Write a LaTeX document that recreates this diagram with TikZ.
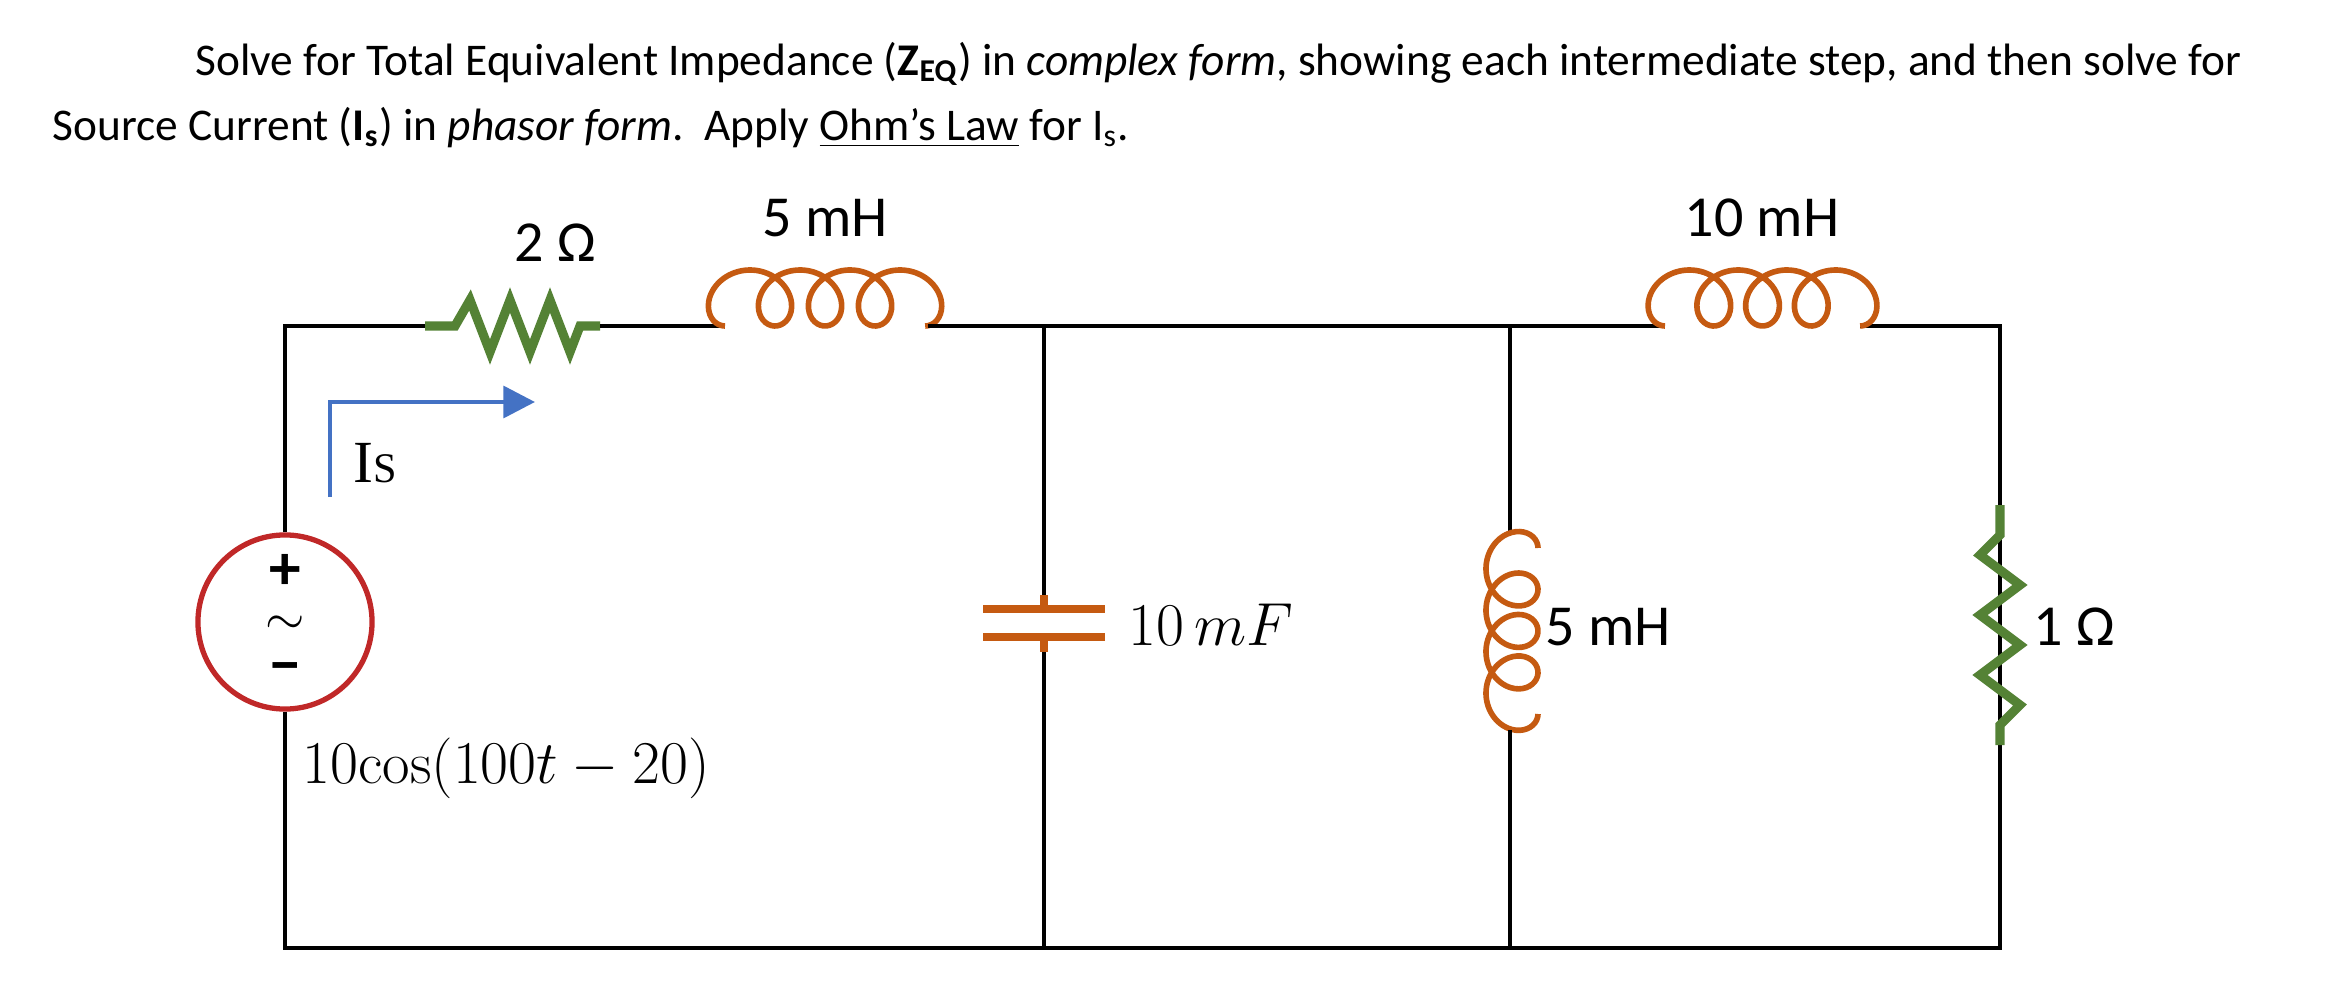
\documentclass[tikz,border=0pt]{standalone}
\usepackage{fontspec}
\setmainfont{Carlito}
\newfontfamily\tnr{Liberation Serif}
\newfontfamily\lmr{Latin Modern Roman}
\usetikzlibrary{arrows.meta}
\definecolor{wgreen}{RGB}{84,130,53}
\definecolor{worange}{RGB}{197,90,17}
\definecolor{wred}{RGB}{192,40,40}
\definecolor{wblue}{RGB}{68,114,196}
\tikzset{
 wire/.style={line width=1.3pt,black},
 res/.style={line width=2.6pt,wgreen,line join=miter},
 ind/.style={line width=1.6pt,worange},
 lbl/.style={font=\fontsize{16.5}{18}\selectfont,inner sep=0pt},
}
\begin{document}
\begin{tikzpicture}[x=0.01cm,y=-0.01cm]
\useasboundingbox (0,0) rectangle (2341,1000);
% title
\node[anchor=base west,inner sep=0pt,font=\fontsize{12.9}{14}\selectfont] (t1) at (195,75) {Solve for Total Equivalent Impedance (\textbf{Z\textsubscript{EQ}}) in \textit{complex form}, showing each intermediate step, and then solve for};
\node[anchor=base west,inner sep=0pt,font=\fontsize{12.9}{14}\selectfont] (t2) at (52,140) {Source Current (\textbf{I\textsubscript{s}}) in \textit{phasor form}.\ \ Apply \underline{Ohm's Law} for I\textsubscript{s}.};
% coordinates
\coordinate (TL) at (285,326); \coordinate (BL) at (285,948);
\coordinate (T2) at (1044,326); \coordinate (B2) at (1044,948);
\coordinate (T3) at (1510,326); \coordinate (B3) at (1510,948);
\coordinate (TR) at (2000,326); \coordinate (BR) at (2000,948);
% source
\node[circle,draw=wred,line width=1.5pt,inner sep=0pt,minimum size=1.74cm] (src) at (285,622) {};
\node[font=\bfseries\fontsize{18}{18}\selectfont,inner sep=0pt] (plus) at (285,572) {+};
\node[font=\fontsize{14}{14}\selectfont,inner sep=0pt] (tilde) at (285,625) {$\sim$};
\node[font=\bfseries\fontsize{18}{18}\selectfont,inner sep=0pt] (minus) at (285,674) {\textminus};
\draw[wire] (src.north) -- (TL) -- (425,326);
\draw[wire] (src.south) -- (BL) -- (BR) -- (TR) -- (1860,326);
% resistor 2 ohm
\draw[res] (425,326) -- (455,326) -- (470,300) -- (490,352) -- (510,300) -- (530,352) -- (550,300) -- (570,352) -- (580,326) -- (600,326);
\draw[wire] (600,326) -- (725,326);
\node[lbl] (r1) at (555,243) {2 Ω};
% inductor 5mH
\draw[ind] plot[domain=0:25.13,samples=160,smooth] ({725+7.96*\x-28*sin(\x r)},{298+28*cos(\x r)});
\draw[wire] (928,326) -- (T2) -- (T3) -- (1665,326);
\node[lbl] (l1) at (825,218) {5 mH};
% inductor 10mH
\draw[ind] plot[domain=0:25.13,samples=160,smooth] ({1665+7.76*\x-28*sin(\x r)},{298+28*cos(\x r)});
\node[lbl] (l2) at (1762,218) {10 mH};
% capacitor
\draw[wire] (T2) -- (1044,595);
\draw[ind,line width=2.4pt] (1044,595) -- (1044,609) (983,609) -- (1105,609) (983,637) -- (1105,637) (1044,637) -- (1044,652);
\draw[wire] (1044,652) -- (B2);
\node[anchor=west,inner sep=0pt,font=\fontsize{17}{17}\selectfont] (c1) at (1128,625) {$10\,mF$};
% vertical inductor
\draw[wire] (T3) -- (1510,535);
\draw[ind] plot[domain=0:25.13,samples=160,smooth] ({1512+26*cos(\x r)},{548+6.6*\x-26*sin(\x r)});
\draw[wire] (1510,730) -- (B3);
\node[lbl,anchor=west] (l3) at (1545,627) {5 mH};
% right resistor
\draw[res] (2000,505) -- (2000,535) -- (1980,555) -- (2020,585) -- (1980,615) -- (2020,645) -- (1980,675) -- (2020,705) -- (2000,725) -- (2000,745);
\node[lbl,anchor=west] (r2) at (2033,627) {1 Ω};
% source label
\node[anchor=west,inner sep=0pt,font=\fontsize{17}{17}\selectfont] (vs) at (302,768) {$10\mbox{\lmr cos}(100t-20)$};
% current arrow
\coordinate (a0) at (330,497); \coordinate (a1) at (330,402); \coordinate (a2) at (535,402);
\draw[wblue,line width=1.3pt,-{Triangle[length=9pt,width=9pt]}] (a0) -- (a1) -- (a2);
\node[inner sep=0pt,font=\tnr\fontsize{17}{17}\selectfont] (is) at (375,463) {I\fontsize{12}{12}\selectfont S};
\end{tikzpicture}
\end{document}
